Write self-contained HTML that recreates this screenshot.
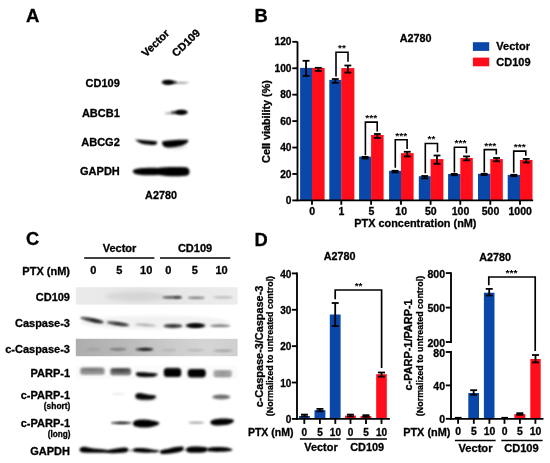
<!DOCTYPE html>
<html lang="en">
<head>
<meta charset="utf-8">
<title>Figure</title>
<style>
html,body{margin:0;padding:0;background:#fff;}
body{width:550px;height:463px;overflow:hidden;}
svg{display:block;font-family:"Liberation Sans",sans-serif;fill:#000;}
text{stroke:#000;stroke-width:0.3px;stroke-linejoin:round;}
text.st{stroke:none;}
</style>
</head>
<body>
<svg width="550" height="463" viewBox="0 0 550 463">
<defs>
<filter id="b0" x="-10%" y="-60%" width="120%" height="220%"><feGaussianBlur stdDeviation="0.85"/></filter>
<filter id="b1" x="-30%" y="-200%" width="160%" height="500%"><feGaussianBlur stdDeviation="1.1 0.9"/></filter>
<filter id="b2" x="-30%" y="-200%" width="160%" height="500%"><feGaussianBlur stdDeviation="2 1.5"/></filter>
<linearGradient id="gCD" x1="0" x2="1" y1="0" y2="0"><stop offset="0" stop-color="#ebebeb"/><stop offset="0.4" stop-color="#e4e4e4"/><stop offset="1" stop-color="#ececec"/></linearGradient>
<linearGradient id="gCC" x1="0" x2="1" y1="0" y2="0"><stop offset="0" stop-color="#adadad"/><stop offset="0.3" stop-color="#b9b9b9"/><stop offset="0.55" stop-color="#c9c9c9"/><stop offset="0.8" stop-color="#d5d5d5"/><stop offset="1" stop-color="#cfcfcf"/></linearGradient>
</defs>
<rect x="0" y="0" width="550" height="463" fill="#fff"/>
<text x="26" y="21.5" font-size="18.5" text-anchor="start" font-weight="bold" >A</text>
<text x="254.6" y="21.6" font-size="18.3" text-anchor="start" font-weight="bold" >B</text>
<text x="26" y="245.0" font-size="18.2" text-anchor="start" font-weight="bold" >C</text>
<text x="254.6" y="246.3" font-size="18.3" text-anchor="start" font-weight="bold" >D</text>
<g id="panelA">
<text transform="translate(146,57.5) rotate(-44)" font-size="11" font-weight="bold">Vector</text>
<text transform="translate(176.2,57.5) rotate(-44)" font-size="11" font-weight="bold">CD109</text>
<text x="119.8" y="86.8" font-size="11" text-anchor="end" font-weight="bold" >CD109</text>
<text x="119.8" y="116.8" font-size="11" text-anchor="end" font-weight="bold" >ABCB1</text>
<text x="119.8" y="146.2" font-size="11" text-anchor="end" font-weight="bold" >ABCG2</text>
<text x="119.8" y="174.8" font-size="11" text-anchor="end" font-weight="bold" >GAPDH</text>
<text x="161" y="199.2" font-size="10.8" text-anchor="middle" font-weight="bold" >A2780</text>
<ellipse cx="167.6" cy="82.3" rx="5.8" ry="2.4" fill="#000" opacity="1.0" filter="url(#b1)"/>
<ellipse cx="170.5" cy="82.4" rx="6.5" ry="1.7" fill="#000" opacity="0.9" filter="url(#b1)"/>
<ellipse cx="181" cy="82.8" rx="8" ry="0.8" fill="#000" opacity="0.5" filter="url(#b1)"/>
<ellipse cx="181.5" cy="112.2" rx="6.2" ry="2.5" fill="#000" opacity="1.0" filter="url(#b1)"/>
<ellipse cx="178" cy="112.5" rx="7.5" ry="1.6" fill="#000" opacity="0.8" filter="url(#b1)"/>
<ellipse cx="169.5" cy="113.3" rx="5" ry="0.9" fill="#000" opacity="0.4" filter="url(#b1)"/>
<path d="M134.8,139.6 C139,140.0 150,140.6 156.8,141.4 C157.8,142.8 157.2,144.4 154,144.9 C148,145.5 139.5,144.2 134.8,139.6 Z" fill="#000" opacity="1.0" filter="url(#b0)"/>
<ellipse cx="176" cy="146.5" rx="10" ry="3.0" fill="#000" opacity="0.12" filter="url(#b2)"/>
<path d="M162.3,141.6 C166,140.1 180,139.5 188.2,139.7 C188.8,142 186,144.6 180,146 C174,147.6 166,148.1 163.6,146.2 C162,144.6 161.8,143 162.3,141.6 Z" fill="#000" opacity="1.0" filter="url(#b0)"/>
<path d="M133.3,170 C137,167.6 150,167.3 158.5,167.9 C160,167 175,166.7 186,167.2 C190,168 190.6,173 188,175.2 C182,176.9 166,176.6 159,174.9 C150,175.6 140,175.5 135.3,174 C132.8,173 132.4,171 133.3,170 Z" fill="#000" opacity="1.0" filter="url(#b0)"/>
</g>
<g id="panelB">
<text x="415.6" y="41.7" font-size="10.8" text-anchor="middle" font-weight="bold" >A2780</text>
<rect x="472.90" y="42.20" width="16.30" height="8.70" fill="#0948a8" />
<rect x="472.90" y="57.60" width="16.30" height="8.70" fill="#ff0d1a" />
<text x="496.3" y="50.2" font-size="11" text-anchor="start" font-weight="bold" >Vector</text>
<text x="496.3" y="65.6" font-size="11" text-anchor="start" font-weight="bold" >CD109</text>
<rect x="300.10" y="67.90" width="12.10" height="132.50" fill="#0948a8" />
<rect x="312.00" y="67.90" width="12.60" height="132.50" fill="#ff0d1a" />
<rect x="329.30" y="79.90" width="12.20" height="120.50" fill="#0948a8" />
<rect x="341.30" y="68.10" width="13.10" height="132.30" fill="#ff0d1a" />
<rect x="359.10" y="156.60" width="12.20" height="43.80" fill="#0948a8" />
<rect x="371.10" y="135.00" width="12.50" height="65.40" fill="#ff0d1a" />
<rect x="389.10" y="170.80" width="12.10" height="29.60" fill="#0948a8" />
<rect x="401.00" y="153.10" width="12.60" height="47.30" fill="#ff0d1a" />
<rect x="418.80" y="176.20" width="12.00" height="24.20" fill="#0948a8" />
<rect x="430.60" y="159.10" width="12.80" height="41.30" fill="#ff0d1a" />
<rect x="448.10" y="174.00" width="12.40" height="26.40" fill="#0948a8" />
<rect x="460.30" y="158.00" width="12.50" height="42.40" fill="#ff0d1a" />
<rect x="478.00" y="173.80" width="12.50" height="26.60" fill="#0948a8" />
<rect x="490.30" y="159.10" width="12.50" height="41.30" fill="#ff0d1a" />
<rect x="507.70" y="174.90" width="12.50" height="25.50" fill="#0948a8" />
<rect x="520.00" y="160.00" width="12.50" height="40.40" fill="#ff0d1a" />
<line x1="306.05" y1="60.8" x2="306.05" y2="75.9" stroke="#000" stroke-width="1.8" />
<line x1="302.6" y1="60.8" x2="309.5" y2="60.8" stroke="#000" stroke-width="1.8" />
<line x1="302.6" y1="75.9" x2="309.5" y2="75.9" stroke="#000" stroke-width="1.8" />
<line x1="318.3" y1="67.8" x2="318.3" y2="70.9" stroke="#000" stroke-width="1.8" />
<line x1="314.85" y1="67.8" x2="321.75" y2="67.8" stroke="#000" stroke-width="1.8" />
<line x1="314.85" y1="70.9" x2="321.75" y2="70.9" stroke="#000" stroke-width="1.8" />
<text x="312.2" y="214.6" font-size="10.5" text-anchor="middle" font-weight="bold" >0</text>
<line x1="312.0" y1="200.4" x2="312.0" y2="204.8" stroke="#000" stroke-width="1.85" />
<line x1="335.3" y1="79.0" x2="335.3" y2="82.8" stroke="#000" stroke-width="1.8" />
<line x1="331.85" y1="79.0" x2="338.75" y2="79.0" stroke="#000" stroke-width="1.8" />
<line x1="331.85" y1="82.8" x2="338.75" y2="82.8" stroke="#000" stroke-width="1.8" />
<line x1="347.85" y1="65.5" x2="347.85" y2="72.6" stroke="#000" stroke-width="1.8" />
<line x1="344.40000000000003" y1="65.5" x2="351.3" y2="65.5" stroke="#000" stroke-width="1.8" />
<line x1="344.40000000000003" y1="72.6" x2="351.3" y2="72.6" stroke="#000" stroke-width="1.8" />
<polyline points="336.0,76.4 336.0,52.3 348.0,52.3 348.0,61.7" fill="none" stroke="#000" stroke-width="1.6"/>
<text x="342.0" y="51.3" font-size="9.6" text-anchor="middle" font-weight="bold" textLength="7.8" lengthAdjust="spacingAndGlyphs" class="st">**</text>
<text x="341.5" y="214.6" font-size="10.5" text-anchor="middle" font-weight="bold" >1</text>
<line x1="341.3" y1="200.4" x2="341.3" y2="204.8" stroke="#000" stroke-width="1.85" />
<line x1="365.1" y1="156.9" x2="365.1" y2="158.5" stroke="#000" stroke-width="1.8" />
<line x1="361.65000000000003" y1="156.9" x2="368.55" y2="156.9" stroke="#000" stroke-width="1.8" />
<line x1="361.65000000000003" y1="158.5" x2="368.55" y2="158.5" stroke="#000" stroke-width="1.8" />
<line x1="377.35" y1="134.0" x2="377.35" y2="138.0" stroke="#000" stroke-width="1.8" />
<line x1="373.90000000000003" y1="134.0" x2="380.8" y2="134.0" stroke="#000" stroke-width="1.8" />
<line x1="373.90000000000003" y1="138.0" x2="380.8" y2="138.0" stroke="#000" stroke-width="1.8" />
<polyline points="365.4,155.3 365.4,122.1 377.2,122.1 377.2,131.6" fill="none" stroke="#000" stroke-width="1.6"/>
<text x="371.29999999999995" y="121.1" font-size="9.6" text-anchor="middle" font-weight="bold" textLength="12.0" lengthAdjust="spacingAndGlyphs" class="st">***</text>
<text x="371.3" y="214.6" font-size="10.5" text-anchor="middle" font-weight="bold" >5</text>
<line x1="371.1" y1="200.4" x2="371.1" y2="204.8" stroke="#000" stroke-width="1.85" />
<line x1="395.05" y1="170.8" x2="395.05" y2="172.4" stroke="#000" stroke-width="1.8" />
<line x1="391.6" y1="170.8" x2="398.5" y2="170.8" stroke="#000" stroke-width="1.8" />
<line x1="391.6" y1="172.4" x2="398.5" y2="172.4" stroke="#000" stroke-width="1.8" />
<line x1="407.3" y1="151.8" x2="407.3" y2="156.4" stroke="#000" stroke-width="1.8" />
<line x1="403.85" y1="151.8" x2="410.75" y2="151.8" stroke="#000" stroke-width="1.8" />
<line x1="403.85" y1="156.4" x2="410.75" y2="156.4" stroke="#000" stroke-width="1.8" />
<polyline points="395.3,167.8 395.3,139.8 407.1,139.8 407.1,148.9" fill="none" stroke="#000" stroke-width="1.6"/>
<text x="401.20000000000005" y="138.8" font-size="9.6" text-anchor="middle" font-weight="bold" textLength="12.0" lengthAdjust="spacingAndGlyphs" class="st">***</text>
<text x="401.2" y="214.6" font-size="10.5" text-anchor="middle" font-weight="bold" >10</text>
<line x1="401.0" y1="200.4" x2="401.0" y2="204.8" stroke="#000" stroke-width="1.85" />
<line x1="424.70000000000005" y1="176.0" x2="424.70000000000005" y2="178.4" stroke="#000" stroke-width="1.8" />
<line x1="421.25000000000006" y1="176.0" x2="428.15000000000003" y2="176.0" stroke="#000" stroke-width="1.8" />
<line x1="421.25000000000006" y1="178.4" x2="428.15000000000003" y2="178.4" stroke="#000" stroke-width="1.8" />
<line x1="437.0" y1="155.5" x2="437.0" y2="163.8" stroke="#000" stroke-width="1.8" />
<line x1="433.55" y1="155.5" x2="440.45" y2="155.5" stroke="#000" stroke-width="1.8" />
<line x1="433.55" y1="163.8" x2="440.45" y2="163.8" stroke="#000" stroke-width="1.8" />
<polyline points="425.3,173.3 425.3,143.45 437.5,143.45 437.5,152.2" fill="none" stroke="#000" stroke-width="1.6"/>
<text x="431.4" y="142.45" font-size="9.6" text-anchor="middle" font-weight="bold" textLength="7.8" lengthAdjust="spacingAndGlyphs" class="st">**</text>
<text x="430.8" y="214.6" font-size="10.5" text-anchor="middle" font-weight="bold" >50</text>
<line x1="430.6" y1="200.4" x2="430.6" y2="204.8" stroke="#000" stroke-width="1.85" />
<line x1="454.20000000000005" y1="173.9" x2="454.20000000000005" y2="175.3" stroke="#000" stroke-width="1.8" />
<line x1="450.75000000000006" y1="173.9" x2="457.65000000000003" y2="173.9" stroke="#000" stroke-width="1.8" />
<line x1="450.75000000000006" y1="175.3" x2="457.65000000000003" y2="175.3" stroke="#000" stroke-width="1.8" />
<line x1="466.55" y1="156.4" x2="466.55" y2="160.3" stroke="#000" stroke-width="1.8" />
<line x1="463.1" y1="156.4" x2="470.0" y2="156.4" stroke="#000" stroke-width="1.8" />
<line x1="463.1" y1="160.3" x2="470.0" y2="160.3" stroke="#000" stroke-width="1.8" />
<polyline points="454.4,172.5 454.4,147.25 466.4,147.25 466.4,153.3" fill="none" stroke="#000" stroke-width="1.6"/>
<text x="460.4" y="146.25" font-size="9.6" text-anchor="middle" font-weight="bold" textLength="12.0" lengthAdjust="spacingAndGlyphs" class="st">***</text>
<text x="460.5" y="214.6" font-size="10.5" text-anchor="middle" font-weight="bold" >100</text>
<line x1="460.3" y1="200.4" x2="460.3" y2="204.8" stroke="#000" stroke-width="1.85" />
<line x1="484.15" y1="173.8" x2="484.15" y2="175.0" stroke="#000" stroke-width="1.8" />
<line x1="480.7" y1="173.8" x2="487.59999999999997" y2="173.8" stroke="#000" stroke-width="1.8" />
<line x1="480.7" y1="175.0" x2="487.59999999999997" y2="175.0" stroke="#000" stroke-width="1.8" />
<line x1="496.55" y1="158.0" x2="496.55" y2="161.3" stroke="#000" stroke-width="1.8" />
<line x1="493.1" y1="158.0" x2="500.0" y2="158.0" stroke="#000" stroke-width="1.8" />
<line x1="493.1" y1="161.3" x2="500.0" y2="161.3" stroke="#000" stroke-width="1.8" />
<polyline points="484.3,172.5 484.3,149.65 496.3,149.65 496.3,154.5" fill="none" stroke="#000" stroke-width="1.6"/>
<text x="490.3" y="148.65" font-size="9.6" text-anchor="middle" font-weight="bold" textLength="12.0" lengthAdjust="spacingAndGlyphs" class="st">***</text>
<text x="490.5" y="214.6" font-size="10.5" text-anchor="middle" font-weight="bold" >500</text>
<line x1="490.3" y1="200.4" x2="490.3" y2="204.8" stroke="#000" stroke-width="1.85" />
<line x1="513.85" y1="174.8" x2="513.85" y2="176.2" stroke="#000" stroke-width="1.8" />
<line x1="510.40000000000003" y1="174.8" x2="517.3000000000001" y2="174.8" stroke="#000" stroke-width="1.8" />
<line x1="510.40000000000003" y1="176.2" x2="517.3000000000001" y2="176.2" stroke="#000" stroke-width="1.8" />
<line x1="526.25" y1="158.9" x2="526.25" y2="162.5" stroke="#000" stroke-width="1.8" />
<line x1="522.8" y1="158.9" x2="529.7" y2="158.9" stroke="#000" stroke-width="1.8" />
<line x1="522.8" y1="162.5" x2="529.7" y2="162.5" stroke="#000" stroke-width="1.8" />
<polyline points="513.7,172.7 513.7,151.1 525.8,151.1 525.8,155.8" fill="none" stroke="#000" stroke-width="1.6"/>
<text x="519.75" y="150.1" font-size="9.6" text-anchor="middle" font-weight="bold" textLength="12.0" lengthAdjust="spacingAndGlyphs" class="st">***</text>
<text x="520.2" y="214.6" font-size="10.5" text-anchor="middle" font-weight="bold" >1000</text>
<line x1="520.0" y1="200.4" x2="520.0" y2="204.8" stroke="#000" stroke-width="1.85" />
<line x1="297.5" y1="41.6" x2="297.5" y2="201.15" stroke="#000" stroke-width="1.85" />
<line x1="296.7" y1="200.4" x2="533.2" y2="200.4" stroke="#000" stroke-width="1.85" />
<line x1="292.3" y1="200.4" x2="297.5" y2="200.4" stroke="#000" stroke-width="1.85" />
<text x="291.5" y="204.0" font-size="10.2" text-anchor="end" font-weight="bold" >0</text>
<line x1="292.3" y1="173.97" x2="297.5" y2="173.97" stroke="#000" stroke-width="1.85" />
<text x="291.5" y="177.57" font-size="10.2" text-anchor="end" font-weight="bold" >20</text>
<line x1="292.3" y1="147.54000000000002" x2="297.5" y2="147.54000000000002" stroke="#000" stroke-width="1.85" />
<text x="291.5" y="151.14000000000001" font-size="10.2" text-anchor="end" font-weight="bold" >40</text>
<line x1="292.3" y1="121.11000000000001" x2="297.5" y2="121.11000000000001" stroke="#000" stroke-width="1.85" />
<text x="291.5" y="124.71000000000001" font-size="10.2" text-anchor="end" font-weight="bold" >60</text>
<line x1="292.3" y1="94.68" x2="297.5" y2="94.68" stroke="#000" stroke-width="1.85" />
<text x="291.5" y="98.28" font-size="10.2" text-anchor="end" font-weight="bold" >80</text>
<line x1="292.3" y1="68.25000000000003" x2="297.5" y2="68.25000000000003" stroke="#000" stroke-width="1.85" />
<text x="291.5" y="71.85000000000002" font-size="10.2" text-anchor="end" font-weight="bold" >100</text>
<line x1="292.3" y1="41.82000000000002" x2="297.5" y2="41.82000000000002" stroke="#000" stroke-width="1.85" />
<text x="291.5" y="45.42000000000002" font-size="10.2" text-anchor="end" font-weight="bold" >120</text>
<text x="415.4" y="226.8" font-size="10.9" text-anchor="middle" font-weight="bold" >PTX concentration (nM)</text>
<text transform="translate(270.2,121.5) rotate(-90)" font-size="10.8" font-weight="bold" text-anchor="middle">Cell viability (%)</text>
</g>
<g id="panelC">
<text x="119.5" y="251.8" font-size="11" text-anchor="middle" font-weight="bold" >Vector</text>
<text x="195" y="251.8" font-size="11" text-anchor="middle" font-weight="bold" >CD109</text>
<line x1="84.2" y1="258" x2="154.4" y2="258" stroke="#000" stroke-width="1.5" />
<line x1="160" y1="258" x2="230.3" y2="258" stroke="#000" stroke-width="1.5" />
<text x="70" y="274.6" font-size="11" text-anchor="end" font-weight="bold" >PTX (nM)</text>
<text x="93.2" y="274.3" font-size="11" text-anchor="middle" font-weight="bold" >0</text>
<text x="119.4" y="274.3" font-size="11" text-anchor="middle" font-weight="bold" >5</text>
<text x="146.2" y="274.3" font-size="11" text-anchor="middle" font-weight="bold" >10</text>
<text x="168.2" y="274.3" font-size="11" text-anchor="middle" font-weight="bold" >0</text>
<text x="194.8" y="274.3" font-size="11" text-anchor="middle" font-weight="bold" >5</text>
<text x="221.6" y="274.3" font-size="11" text-anchor="middle" font-weight="bold" >10</text>
<text x="70" y="301.1" font-size="11" text-anchor="end" font-weight="bold" >CD109</text>
<text x="70" y="327.0" font-size="11" text-anchor="end" font-weight="bold" >Caspase-3</text>
<text x="70" y="352.5" font-size="11" text-anchor="end" font-weight="bold" >c-Caspase-3</text>
<text x="70" y="376.8" font-size="11" text-anchor="end" font-weight="bold" >PARP-1</text>
<text x="70" y="399.0" font-size="11" text-anchor="end" font-weight="bold" >c-PARP-1</text>
<text x="70.4" y="408.7" font-size="8.5" text-anchor="end" font-weight="bold" textLength="26.6" lengthAdjust="spacingAndGlyphs" >(short)</text>
<text x="70" y="427.2" font-size="11" text-anchor="end" font-weight="bold" >c-PARP-1</text>
<text x="70.4" y="437.0" font-size="8.5" text-anchor="end" font-weight="bold" textLength="22.7" lengthAdjust="spacingAndGlyphs" >(long)</text>
<text x="70" y="454.7" font-size="11" text-anchor="end" font-weight="bold" >GAPDH</text>
<rect x="75.8" y="287.2" width="161.8" height="17.4" fill="url(#gCD)"/>
<rect x="75.8" y="338.8" width="161.8" height="17.4" fill="url(#gCC)"/>
<rect x="75.8" y="365.5" width="161.8" height="14" fill="#fbfbfb"/>
<ellipse cx="172" cy="297.4" rx="9.5" ry="1.1" fill="#000" opacity="0.75" filter="url(#b1)"/>
<ellipse cx="178" cy="297.4" rx="4" ry="1.2" fill="#000" opacity="0.5" filter="url(#b1)"/>
<ellipse cx="196.3" cy="297.7" rx="8.5" ry="1.0" fill="#000" opacity="0.55" filter="url(#b1)"/>
<ellipse cx="223" cy="297.4" rx="10" ry="0.8" fill="#000" opacity="0.28" filter="url(#b1)"/>
<ellipse cx="135" cy="296.5" rx="30" ry="5" fill="#000" opacity="0.06" filter="url(#b2)"/>
<ellipse cx="155" cy="322.5" rx="75" ry="7" fill="#000" opacity="0.05" filter="url(#b2)"/>
<ellipse cx="92" cy="320.0" rx="12" ry="1.9" fill="#000" opacity="0.8" filter="url(#b1)" transform="rotate(11.5 92 320.0)"/>
<ellipse cx="97" cy="321.4" rx="6" ry="1.3" fill="#000" opacity="0.5" filter="url(#b1)" transform="rotate(11.5 97 321.4)"/>
<ellipse cx="118" cy="323.7" rx="11.5" ry="1.7" fill="#000" opacity="0.75" filter="url(#b1)" transform="rotate(8 118 323.7)"/>
<ellipse cx="120" cy="324.0" rx="7" ry="1.1" fill="#000" opacity="0.4" filter="url(#b1)" transform="rotate(8 120 324.0)"/>
<ellipse cx="145.5" cy="325.0" rx="11" ry="1.2" fill="#000" opacity="0.3" filter="url(#b1)" transform="rotate(4 145.5 325.0)"/>
<ellipse cx="173" cy="325.9" rx="9.5" ry="2.0" fill="#000" opacity="0.8" filter="url(#b1)"/>
<ellipse cx="195.5" cy="325.6" rx="10" ry="2.3" fill="#000" opacity="0.95" filter="url(#b1)"/>
<ellipse cx="195.5" cy="325.6" rx="7" ry="1.5" fill="#000" opacity="0.8" filter="url(#b1)"/>
<ellipse cx="220.3" cy="325.8" rx="10.5" ry="1.25" fill="#000" opacity="0.55" filter="url(#b1)"/>
<ellipse cx="93.5" cy="349.4" rx="7" ry="0.9" fill="#000" opacity="0.14" filter="url(#b1)"/>
<ellipse cx="118" cy="349.3" rx="8.5" ry="1.1" fill="#000" opacity="0.42" filter="url(#b1)"/>
<ellipse cx="144.5" cy="349.3" rx="9.3" ry="1.2" fill="#000" opacity="0.85" filter="url(#b1)"/>
<ellipse cx="146" cy="349.4" rx="6" ry="0.9" fill="#000" opacity="0.6" filter="url(#b1)"/>
<ellipse cx="169" cy="350" rx="8" ry="0.7" fill="#000" opacity="0.16" filter="url(#b1)"/>
<ellipse cx="195.5" cy="350.2" rx="9" ry="0.8" fill="#000" opacity="0.2" filter="url(#b1)"/>
<ellipse cx="223" cy="350.6" rx="10" ry="0.9" fill="#000" opacity="0.3" filter="url(#b1)"/>
<ellipse cx="208" cy="342" rx="8" ry="2.5" fill="#000" opacity="0.0" filter="url(#b1)"/>
<rect x="80.2" y="367.4" width="24.40" height="7.40" rx="2.5" ry="2.5" fill="#000" opacity="0.42" filter="url(#b1)"/>
<ellipse cx="92" cy="369.5" rx="11" ry="1.2" fill="#000" opacity="0.22" filter="url(#b1)"/>
<rect x="110.3" y="368.0" width="20.70" height="7.20" rx="2.5" ry="2.5" fill="#000" opacity="0.55" filter="url(#b1)"/>
<ellipse cx="120.5" cy="370.3" rx="9.5" ry="1.4" fill="#000" opacity="0.45" filter="url(#b1)"/>
<path d="M136.3,372.6 C140,371.9 150,372.7 157.6,373.7 C158.2,375 156,376.7 150,377.1 C144,377.4 138,377.1 136.5,375.6 C135.8,374.6 135.8,373.4 136.3,372.6 Z" fill="#000" opacity="0.97" filter="url(#b0)"/>
<rect x="163.8" y="368.6" width="17.40" height="8.40" rx="3.2" ry="3.2" fill="#000" opacity="1.0" filter="url(#b0)"/>
<rect x="164.5" y="367.8" width="16.00" height="4.20" rx="2.5" ry="2.5" fill="#000" opacity="0.45" filter="url(#b1)"/>
<rect x="187.7" y="368.9" width="18.10" height="8.50" rx="3.4" ry="3.4" fill="#000" opacity="1.0" filter="url(#b0)"/>
<rect x="213.3" y="370.0" width="18.70" height="7.30" rx="2.5" ry="2.5" fill="#000" opacity="0.28" filter="url(#b1)"/>
<ellipse cx="222.5" cy="372.2" rx="8.5" ry="1.1" fill="#000" opacity="0.22" filter="url(#b1)"/>
<ellipse cx="222.5" cy="375.6" rx="8.5" ry="1.1" fill="#000" opacity="0.22" filter="url(#b1)"/>
<ellipse cx="118" cy="393.8" rx="7" ry="1.2" fill="#000" opacity="0.07" filter="url(#b1)"/>
<ellipse cx="146" cy="398" rx="11" ry="3.5" fill="#000" opacity="0.12" filter="url(#b2)"/>
<path d="M135.6,394.5 C136.5,392.6 141,392.4 144,393.8 C148,395.2 153,395.2 155.6,395.6 C156.4,397 155.5,399 152,399.4 C146,399.9 139,399.9 136.5,398.5 C135.2,397.5 135,395.8 135.6,394.5 Z" fill="#000" opacity="0.97" filter="url(#b0)"/>
<ellipse cx="221.3" cy="397.0" rx="9.2" ry="2.4" fill="#000" opacity="0.5" filter="url(#b1)"/>
<ellipse cx="221.3" cy="396.6" rx="7" ry="1.2" fill="#000" opacity="0.2" filter="url(#b1)"/>
<ellipse cx="121.3" cy="422.9" rx="10.5" ry="1.1" fill="#000" opacity="0.8" filter="url(#b1)"/>
<ellipse cx="122" cy="422.9" rx="6" ry="0.9" fill="#000" opacity="0.5" filter="url(#b1)"/>
<path d="M133.3,422 C134.5,419.6 141,418.9 148,419.8 C153,420.6 158,421.6 159.4,422.8 C159.6,424.4 156,426.4 150,427.2 C144,427.9 136,427.6 134,425.8 C132.8,424.6 132.8,423.2 133.3,422 Z" fill="#000" opacity="1.0" filter="url(#b0)"/>
<ellipse cx="196.3" cy="422.7" rx="8" ry="0.9" fill="#000" opacity="0.45" filter="url(#b1)"/>
<path d="M210.6,421.5 C211.5,419.3 218,418.3 225,418.5 C230,418.7 233.5,419.3 234,420.4 C234.2,422 231,424 225,425 C219,425.9 213,425.6 211.2,424 C210.3,423.2 210.2,422.3 210.6,421.5 Z" fill="#000" opacity="1.0" filter="url(#b0)"/>
<path d="M79.6,449.3 C79.8,447 83,446.3 86,446.9 C89,447.6 92,448.5 97,448.8 C101,449 104,449.2 107,450 C110,449.6 113,448.6 118,448.2 C122,447.6 126,447.2 128,448.2 C129,449.5 128,452 125,452.6 C120,453.3 113,453.4 108,452.9 C104,452.6 98,452.8 92,452.8 C87,452.9 82,453 80.3,451.5 C79.6,450.8 79.5,450 79.6,449.3 Z" fill="#000" opacity="1.0" filter="url(#b0)"/>
<path d="M133,449.2 C134,447.8 140,447.6 145,448.2 C150,449 155,449.8 159.3,450.6 C159.5,451.5 158,452.4 155,452.6 C148,452.9 138,452.8 134.5,451.8 C133,451.2 132.7,450 133,449.2 Z" fill="#000" opacity="1.0" filter="url(#b0)"/>
<path d="M159.8,451.2 C161,449.8 166,449.4 170,448.3 C175,447 180,446.2 183.2,446.8 C184.3,448 183.8,450.5 181,451.6 C176,453 168,454.2 163,454 C160.5,453.8 159.3,452.5 159.8,451.2 Z" fill="#000" opacity="1.0" filter="url(#b0)"/>
<path d="M186.2,448.8 C186.8,446.9 192,446.4 197,446.5 C202,446.6 207,447 207.8,448.6 C208.2,450.3 207,452 203,452.5 C198,452.9 190,452.9 187.5,451.9 C186.2,451.2 185.9,449.8 186.2,448.8 Z" fill="#000" opacity="1.0" filter="url(#b0)"/>
<path d="M207.5,448.4 C210,447.1 218,446.9 224,447.3 C228,447.6 231.5,448.5 232.6,449.8 C232,451 228,451.6 222,451.8 C216,452 210,451.9 208,451 C207,450.3 207,449 207.5,448.4 Z" fill="#000" opacity="1.0" filter="url(#b0)"/>
<ellipse cx="131" cy="450.6" rx="3" ry="0.8" fill="#000" opacity="0.5" filter="url(#b1)"/>
<ellipse cx="185" cy="450" rx="2.5" ry="0.8" fill="#000" opacity="0.4" filter="url(#b1)"/>
</g>
<g id="panelD1">
<text x="339.7" y="260.2" font-size="10.8" text-anchor="middle" font-weight="bold" >A2780</text>
<rect x="299.00" y="416.00" width="10.90" height="2.90" fill="#0948a8" />
<rect x="314.50" y="410.10" width="10.90" height="8.80" fill="#0948a8" />
<rect x="329.80" y="314.50" width="10.80" height="104.40" fill="#0948a8" />
<rect x="345.00" y="415.60" width="10.90" height="3.30" fill="#ff0d1a" />
<rect x="360.50" y="416.10" width="10.90" height="2.80" fill="#ff0d1a" />
<rect x="376.20" y="374.20" width="10.60" height="44.70" fill="#ff0d1a" />
<line x1="304.45" y1="414.6" x2="304.45" y2="416.4" stroke="#000" stroke-width="1.8" />
<line x1="300.95" y1="414.6" x2="307.95" y2="414.6" stroke="#000" stroke-width="1.8" />
<line x1="300.95" y1="416.4" x2="307.95" y2="416.4" stroke="#000" stroke-width="1.8" />
<line x1="319.95" y1="408.9" x2="319.95" y2="411.3" stroke="#000" stroke-width="1.8" />
<line x1="316.45" y1="408.9" x2="323.45" y2="408.9" stroke="#000" stroke-width="1.8" />
<line x1="316.45" y1="411.3" x2="323.45" y2="411.3" stroke="#000" stroke-width="1.8" />
<line x1="335.20000000000005" y1="303.0" x2="335.20000000000005" y2="326.1" stroke="#000" stroke-width="1.8" />
<line x1="331.70000000000005" y1="303.0" x2="338.70000000000005" y2="303.0" stroke="#000" stroke-width="1.8" />
<line x1="331.70000000000005" y1="326.1" x2="338.70000000000005" y2="326.1" stroke="#000" stroke-width="1.8" />
<line x1="350.45" y1="414.6" x2="350.45" y2="416.4" stroke="#000" stroke-width="1.8" />
<line x1="346.95" y1="414.6" x2="353.95" y2="414.6" stroke="#000" stroke-width="1.8" />
<line x1="346.95" y1="416.4" x2="353.95" y2="416.4" stroke="#000" stroke-width="1.8" />
<line x1="365.95" y1="415.2" x2="365.95" y2="416.8" stroke="#000" stroke-width="1.8" />
<line x1="362.45" y1="415.2" x2="369.45" y2="415.2" stroke="#000" stroke-width="1.8" />
<line x1="362.45" y1="416.8" x2="369.45" y2="416.8" stroke="#000" stroke-width="1.8" />
<line x1="381.5" y1="372.5" x2="381.5" y2="376.6" stroke="#000" stroke-width="1.8" />
<line x1="378.0" y1="372.5" x2="385.0" y2="372.5" stroke="#000" stroke-width="1.8" />
<line x1="378.0" y1="376.6" x2="385.0" y2="376.6" stroke="#000" stroke-width="1.8" />
<polyline points="335.2,299.3 335.2,290 381.6,290 381.6,368.1" fill="none" stroke="#000" stroke-width="1.7"/>
<text x="358.6" y="289.0" font-size="9.6" text-anchor="middle" font-weight="bold" textLength="7.8" lengthAdjust="spacingAndGlyphs" class="st">**</text>
<line x1="297.0" y1="272.5" x2="297.0" y2="419.79999999999995" stroke="#000" stroke-width="1.85" />
<line x1="296.1" y1="418.9" x2="389.9" y2="418.9" stroke="#000" stroke-width="1.85" />
<line x1="291.8" y1="418.9" x2="297.0" y2="418.9" stroke="#000" stroke-width="1.85" />
<text x="291.4" y="423.2" font-size="10" text-anchor="end" font-weight="bold" >0</text>
<line x1="291.8" y1="382.525" x2="297.0" y2="382.525" stroke="#000" stroke-width="1.85" />
<text x="291.4" y="386.825" font-size="10" text-anchor="end" font-weight="bold" >10</text>
<line x1="291.8" y1="346.15" x2="297.0" y2="346.15" stroke="#000" stroke-width="1.85" />
<text x="291.4" y="350.45" font-size="10" text-anchor="end" font-weight="bold" >20</text>
<line x1="291.8" y1="309.775" x2="297.0" y2="309.775" stroke="#000" stroke-width="1.85" />
<text x="291.4" y="314.075" font-size="10" text-anchor="end" font-weight="bold" >30</text>
<line x1="291.8" y1="273.4" x2="297.0" y2="273.4" stroke="#000" stroke-width="1.85" />
<text x="291.4" y="277.7" font-size="10" text-anchor="end" font-weight="bold" >40</text>
<text x="293.4" y="435.6" font-size="10.5" text-anchor="end" font-weight="bold" >PTX (nM)</text>
<line x1="304.3" y1="418.9" x2="304.3" y2="423.9" stroke="#000" stroke-width="1.85" />
<text x="304.40000000000003" y="435.5" font-size="10" text-anchor="middle" font-weight="bold" >0</text>
<line x1="319.9" y1="418.9" x2="319.9" y2="423.9" stroke="#000" stroke-width="1.85" />
<text x="320.0" y="435.5" font-size="10" text-anchor="middle" font-weight="bold" >5</text>
<line x1="335.3" y1="418.9" x2="335.3" y2="423.9" stroke="#000" stroke-width="1.85" />
<text x="335.40000000000003" y="435.5" font-size="10" text-anchor="middle" font-weight="bold" >10</text>
<line x1="350.5" y1="418.9" x2="350.5" y2="423.9" stroke="#000" stroke-width="1.85" />
<text x="350.6" y="435.5" font-size="10" text-anchor="middle" font-weight="bold" >0</text>
<line x1="366.0" y1="418.9" x2="366.0" y2="423.9" stroke="#000" stroke-width="1.85" />
<text x="366.1" y="435.5" font-size="10" text-anchor="middle" font-weight="bold" >5</text>
<line x1="381.5" y1="418.9" x2="381.5" y2="423.9" stroke="#000" stroke-width="1.85" />
<text x="381.6" y="435.5" font-size="10" text-anchor="middle" font-weight="bold" >10</text>
<line x1="299.9" y1="439.0" x2="340.6" y2="439.0" stroke="#000" stroke-width="1.5" />
<line x1="346.4" y1="439.0" x2="386.9" y2="439.0" stroke="#000" stroke-width="1.5" />
<text x="321" y="451.2" font-size="10.9" text-anchor="middle" font-weight="bold" >Vector</text>
<text x="367.2" y="451.2" font-size="10.9" text-anchor="middle" font-weight="bold" >CD109</text>
<text transform="translate(262.8,346.5) rotate(-90)" font-size="10.9" font-weight="bold" text-anchor="middle">c-Caspase-3/Caspase-3</text>
<text transform="translate(273.0,346.1) rotate(-90)" font-size="8.2" font-weight="bold" text-anchor="middle" textLength="140.3" lengthAdjust="spacingAndGlyphs">(Normalized to untreated control)</text>
</g>
<g id="panelD2">
<text x="495.2" y="261.2" font-size="10.8" text-anchor="middle" font-weight="bold" >A2780</text>
<rect x="468.30" y="393.00" width="10.70" height="25.80" fill="#0948a8" />
<rect x="483.90" y="292.70" width="10.60" height="126.10" fill="#0948a8" />
<rect x="514.40" y="414.10" width="10.90" height="4.70" fill="#ff0d1a" />
<rect x="530.30" y="359.00" width="10.40" height="59.80" fill="#ff0d1a" />
<line x1="473.65" y1="390.2" x2="473.65" y2="394.8" stroke="#000" stroke-width="1.8" />
<line x1="470.15" y1="390.2" x2="477.15" y2="390.2" stroke="#000" stroke-width="1.8" />
<line x1="470.15" y1="394.8" x2="477.15" y2="394.8" stroke="#000" stroke-width="1.8" />
<line x1="489.2" y1="288.9" x2="489.2" y2="295.5" stroke="#000" stroke-width="1.8" />
<line x1="485.7" y1="288.9" x2="492.7" y2="288.9" stroke="#000" stroke-width="1.8" />
<line x1="485.7" y1="295.5" x2="492.7" y2="295.5" stroke="#000" stroke-width="1.8" />
<line x1="519.8499999999999" y1="413.2" x2="519.8499999999999" y2="414.8" stroke="#000" stroke-width="1.8" />
<line x1="516.3499999999999" y1="413.2" x2="523.3499999999999" y2="413.2" stroke="#000" stroke-width="1.8" />
<line x1="516.3499999999999" y1="414.8" x2="523.3499999999999" y2="414.8" stroke="#000" stroke-width="1.8" />
<line x1="535.5" y1="355.0" x2="535.5" y2="362.4" stroke="#000" stroke-width="1.8" />
<line x1="532.0" y1="355.0" x2="539.0" y2="355.0" stroke="#000" stroke-width="1.8" />
<line x1="532.0" y1="362.4" x2="539.0" y2="362.4" stroke="#000" stroke-width="1.8" />
<line x1="454.9" y1="417.6" x2="461.6" y2="417.6" stroke="#000" stroke-width="1.4" />
<line x1="501.3" y1="417.6" x2="508.0" y2="417.6" stroke="#000" stroke-width="1.4" />
<polyline points="488.8,285.2 488.8,277 535.2,277 535.2,351" fill="none" stroke="#000" stroke-width="1.7"/>
<text x="511.6" y="276.2" font-size="9.6" text-anchor="middle" font-weight="bold" textLength="12.0" lengthAdjust="spacingAndGlyphs" class="st">***</text>
<line x1="451.0" y1="272.2" x2="451.0" y2="342.9" stroke="#000" stroke-width="1.85" />
<line x1="451.0" y1="351.1" x2="451.0" y2="419.7" stroke="#000" stroke-width="1.85" />
<line x1="450.1" y1="418.8" x2="543.5" y2="418.8" stroke="#000" stroke-width="1.85" />
<line x1="445.8" y1="273.1" x2="451.0" y2="273.1" stroke="#000" stroke-width="1.85" />
<text x="445.0" y="277.70000000000005" font-size="10.5" text-anchor="end" font-weight="bold" >800</text>
<line x1="445.8" y1="307.6" x2="451.0" y2="307.6" stroke="#000" stroke-width="1.85" />
<text x="445.0" y="312.20000000000005" font-size="10.5" text-anchor="end" font-weight="bold" >500</text>
<line x1="445.8" y1="342.0" x2="451.0" y2="342.0" stroke="#000" stroke-width="1.85" />
<text x="445.0" y="346.6" font-size="10.5" text-anchor="end" font-weight="bold" >200</text>
<line x1="445.8" y1="352.0" x2="451.0" y2="352.0" stroke="#000" stroke-width="1.85" />
<text x="445.0" y="356.6" font-size="10.5" text-anchor="end" font-weight="bold" >80</text>
<line x1="445.8" y1="385.4" x2="451.0" y2="385.4" stroke="#000" stroke-width="1.85" />
<text x="445.0" y="390.0" font-size="10.5" text-anchor="end" font-weight="bold" >40</text>
<line x1="445.8" y1="418.8" x2="451.0" y2="418.8" stroke="#000" stroke-width="1.85" />
<text x="445.0" y="423.40000000000003" font-size="10.5" text-anchor="end" font-weight="bold" >0</text>
<text x="450.4" y="435.6" font-size="10.9" text-anchor="end" font-weight="bold" >PTX (nM)</text>
<line x1="458.1" y1="418.8" x2="458.1" y2="423.8" stroke="#000" stroke-width="1.85" />
<text x="458.20000000000005" y="435.3" font-size="10.4" text-anchor="middle" font-weight="bold" >0</text>
<line x1="473.8" y1="418.8" x2="473.8" y2="423.8" stroke="#000" stroke-width="1.85" />
<text x="473.90000000000003" y="435.3" font-size="10.4" text-anchor="middle" font-weight="bold" >5</text>
<line x1="489.4" y1="418.8" x2="489.4" y2="423.8" stroke="#000" stroke-width="1.85" />
<text x="489.5" y="435.3" font-size="10.4" text-anchor="middle" font-weight="bold" >10</text>
<line x1="504.5" y1="418.8" x2="504.5" y2="423.8" stroke="#000" stroke-width="1.85" />
<text x="504.6" y="435.3" font-size="10.4" text-anchor="middle" font-weight="bold" >0</text>
<line x1="519.9" y1="418.8" x2="519.9" y2="423.8" stroke="#000" stroke-width="1.85" />
<text x="520.0" y="435.3" font-size="10.4" text-anchor="middle" font-weight="bold" >5</text>
<line x1="535.4" y1="418.8" x2="535.4" y2="423.8" stroke="#000" stroke-width="1.85" />
<text x="535.5" y="435.3" font-size="10.4" text-anchor="middle" font-weight="bold" >10</text>
<line x1="454.9" y1="440.5" x2="495.6" y2="440.5" stroke="#000" stroke-width="1.5" />
<line x1="501.3" y1="440.5" x2="542.6" y2="440.5" stroke="#000" stroke-width="1.5" />
<text x="475.5" y="452.4" font-size="11.1" text-anchor="middle" font-weight="bold" >Vector</text>
<text x="521.4" y="452.4" font-size="11.1" text-anchor="middle" font-weight="bold" >CD109</text>
<text transform="translate(411.9,344.9) rotate(-90)" font-size="10.9" font-weight="bold" text-anchor="middle">c-PARP-1/PARP-1</text>
<text transform="translate(423.0,346.0) rotate(-90)" font-size="8.2" font-weight="bold" text-anchor="middle" textLength="140.3" lengthAdjust="spacingAndGlyphs">(Normalized to untreated control)</text>
</g>
</svg>
</body>
</html>
